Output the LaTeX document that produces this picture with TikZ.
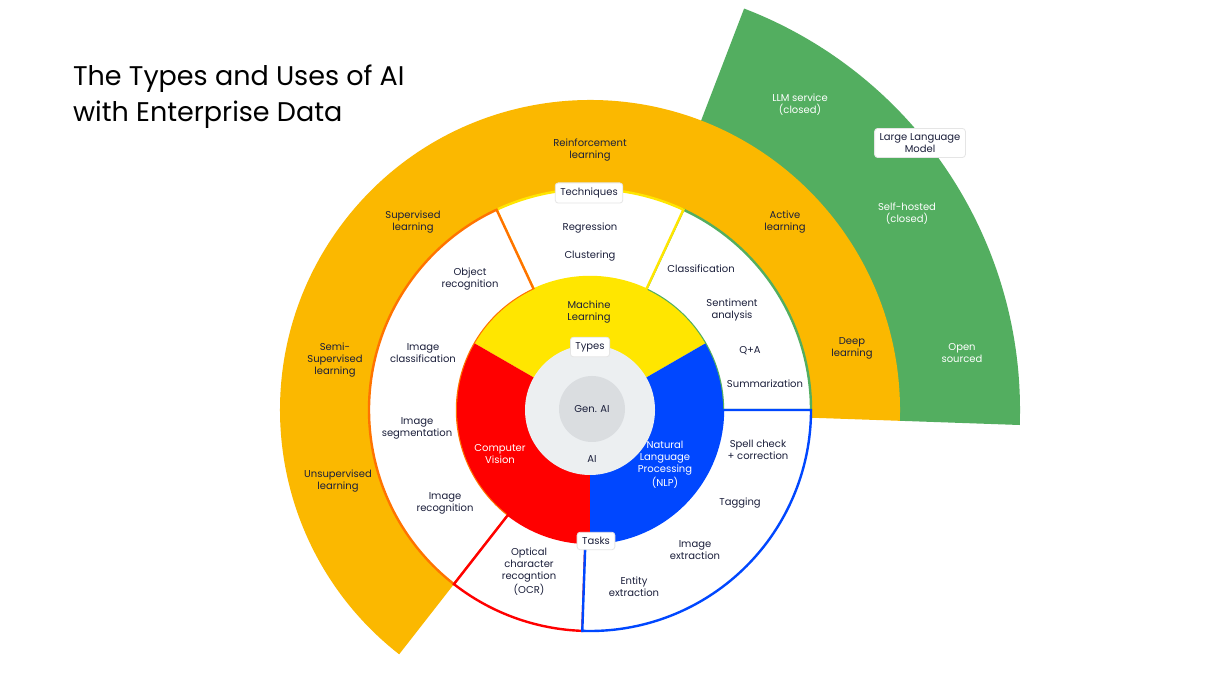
\documentclass[tikz,border=0pt]{standalone}
\usepackage{fontspec}
\setmainfont{Poppins}
\usetikzlibrary{calc}
\definecolor{aiorange}{HTML}{FBB800}
\definecolor{aigreen}{HTML}{53AE60}
\definecolor{aiyellow}{HTML}{FFE600}
\definecolor{aired}{HTML}{FF0000}
\definecolor{aiblue}{HTML}{0047FF}
\definecolor{aigray}{HTML}{ECEFF1}
\definecolor{aidark}{HTML}{DADDE0}
\definecolor{ainavy}{HTML}{1B1F3B}
% ring sector: colour/options, start angle, end angle, inner radius, outer radius
\newcommand\ringpart[5]{%
  \path[#1] ($(C)+(#2:#4)$) arc[start angle=#2,end angle=#3,radius=#4]
    -- ($(C)+(#3:#5)$) arc[start angle=#3,end angle=#2,radius=#5] -- cycle;}
\begin{document}
\begin{tikzpicture}[
        x=0.5pt,y=0.5pt,
        lbl/.style={text=ainavy,align=center,font=\fontsize{5}{6}\selectfont,inner sep=1pt},
        wlbl/.style={lbl,text=white},
        tag/.style={lbl,fill=white,rounded corners=1.5pt,inner sep=2.5pt,draw=black!10},
        ]
    \useasboundingbox[fill=white] (0,0) rectangle (1224,-688);
    \coordinate (C) at (590,-410);
    % outer rings
    \ringpart{fill=aigreen}{-2}{69}{308}{430}
    \ringpart{fill=aiorange}{-2}{232}{220}{310}
    % white ring of uses
    \ringpart{fill=white,draw=aigreen,line width=1.2pt}{0}{65}{133}{221}
    \ringpart{fill=white,draw=aiyellow,line width=1.2pt}{65}{115}{133}{221}
    \ringpart{fill=white,draw=orange!90!red,line width=1.2pt}{115}{232}{133}{221}
    \ringpart{fill=white,draw=aired,line width=1.2pt}{232}{268}{133}{221}
    \ringpart{fill=white,draw=aiblue,line width=1.2pt}{268}{360}{133}{221}
    % types ring
    \ringpart{fill=aiyellow}{30}{150}{64}{133}
    \ringpart{fill=aired}{150}{270}{64}{133}
    \ringpart{fill=aiblue}{270}{390}{64}{133}
    \fill[aigray] (C) circle[radius=65];
    \fill[aidark] ($(C)+(2,1)$) circle[radius=33];

    \node (title) [anchor=north west,align=left,font=\fontsize{13.5}{18}\selectfont] at (66,-58)
        {The Types and Uses of AI\\with Enterprise Data};

    \node (rl) [lbl] at (590,-150) {Reinforcement\\learning};
    \node (sl) [lbl] at (413,-222) {Supervised\\learning};
    \node (ssl) [lbl] at (335,-360) {Semi-\\Supervised\\learning};
    \node (ul) [lbl] at (338,-481) {Unsupervised\\learning};
    \node (al) [lbl] at (785,-222) {Active\\learning};
    \node (dl) [lbl] at (852,-348) {Deep\\learning};
    \node (llms) [wlbl] at (800,-105) {LLM service\\(closed)};
    \node (selfh) [wlbl] at (907,-214) {Self-hosted\\(closed)};
    \node (open) [wlbl] at (962,-353) {Open\\sourced};
    \node (llm) [tag] at (920,-143) {Large Language\\Model};
    \node (tech) [tag] at (589,-193) {Techniques};
    \node (regr) [lbl] at (590,-228) {Regression};
    \node (clus) [lbl] at (590,-256) {Clustering};
    \node (objr) [lbl] at (470,-279) {Object\\recognition};
    \node (imcl) [lbl] at (423,-353) {Image\\classification};
    \node (imse) [lbl] at (417,-428) {Image\\segmentation};
    \node (imre) [lbl] at (445,-503) {Image\\recognition};
    \node (ocr) [lbl] at (529,-572) {Optical\\character\\recogntion\\(OCR)};
    \node (clas) [lbl] at (701,-269) {Classification};
    \node (sent) [lbl] at (732,-310) {Sentiment\\analysis};
    \node (qa) [lbl] at (750,-351) {Q+A};
    \node (summ) [lbl] at (765,-384) {Summarization};
    \node (spell) [lbl] at (758,-450) {Spell check\\+ correction};
    \node (tagg) [lbl] at (740,-503) {Tagging};
    \node (imex) [lbl] at (695,-550) {Image\\extraction};
    \node (enex) [lbl] at (634,-587) {Entity\\extraction};
    \node (ml) [lbl] at (589,-312) {Machine\\Learning};
    \node (cv) [wlbl] at (500,-454) {Computer\\Vision};
    \node (nlp) [wlbl] at (665,-465) {Natural\\Language\\Processing\\(NLP)};
    \node (types) [tag] at (590,-347) {Types};
    \node (gen) [lbl] at (592,-409) {Gen. AI};
    \node (ai) [lbl] at (592,-459) {AI};
    \node (tasks) [tag] at (596,-541) {Tasks};
\end{tikzpicture}
\end{document}
